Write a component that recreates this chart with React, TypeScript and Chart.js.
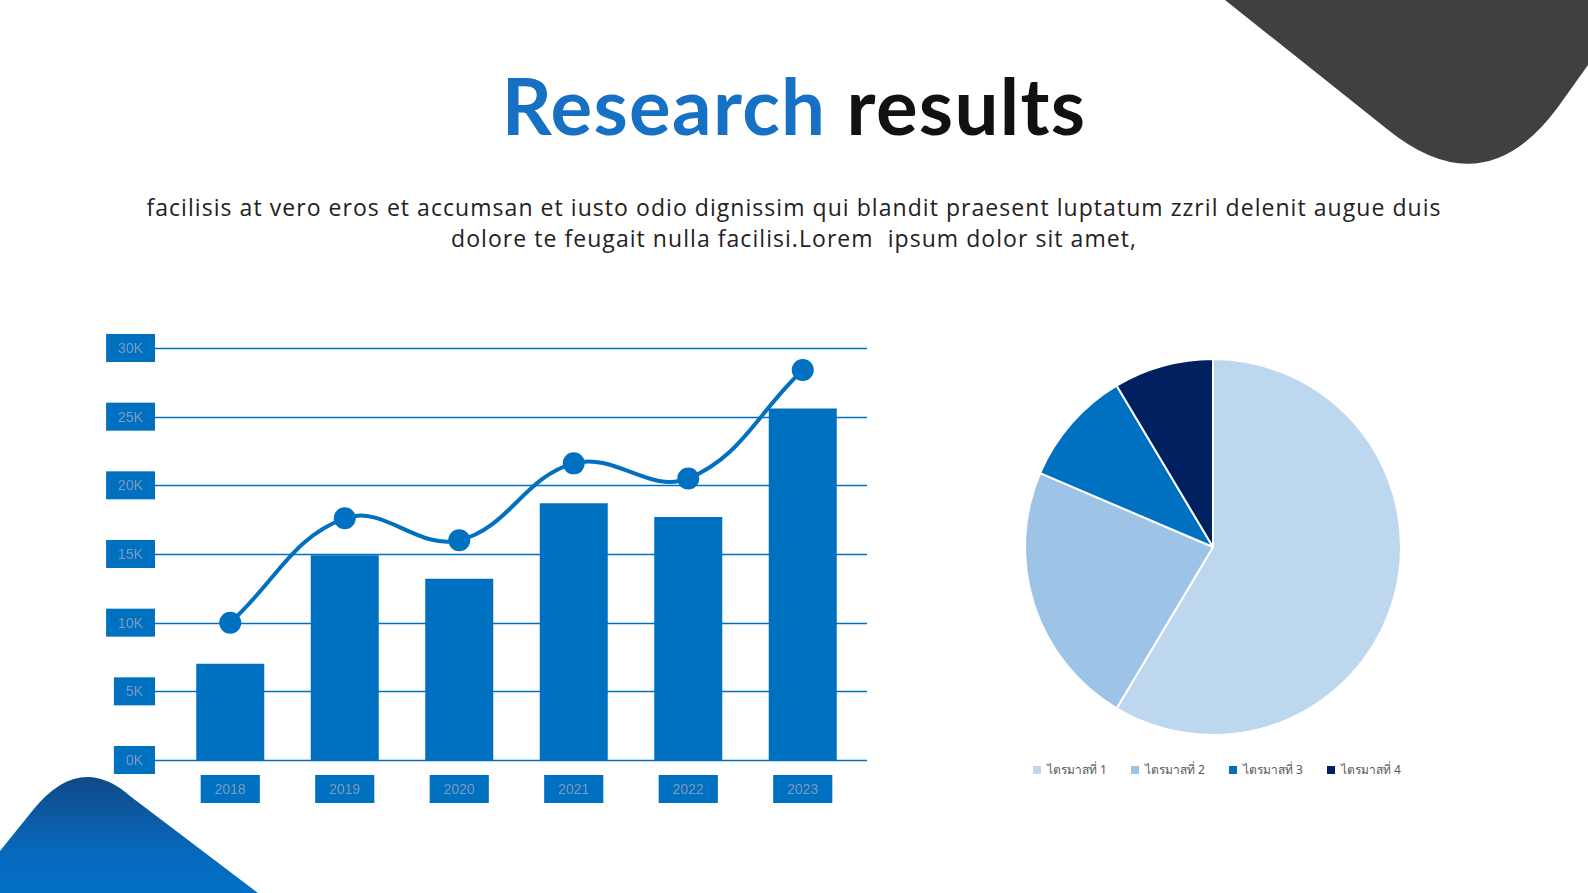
import React, { useEffect, useRef } from "react";
import { Chart, registerables } from "chart.js";
Chart.register(...registerables);

const years = ["2018", "2019", "2020", "2021", "2022", "2023"];
const barValues = [7000, 14900, 13200, 18700, 17700, 25600];
const lineValues = [10000, 17600, 16000, 21600, 20500, 28400];
const yTickLabels = ["0K", "5K", "10K", "15K", "20K", "25K", "30K"];
const pieLabels = ["ไตรมาสที่ 1", "ไตรมาสที่ 2", "ไตรมาสที่ 3", "ไตรมาสที่ 4"];
const pieValues = [8.2, 3.2, 1.4, 1.2];
const pieColors = ["#BDD7EE", "#9DC3E6", "#0070C0", "#002060"];

const BLUE = "#0070C0";
const LABEL_COLOR = "#7D9AC0";

const boxesPlugin = {
  id: "boxes",
  beforeDatasetsDraw(chart: any) {
    const { ctx, chartArea, scales } = chart;
    const y = scales.y;
    ctx.save();
    ctx.strokeStyle = BLUE;
    ctx.lineWidth = 1.3;
    y.ticks.forEach((t: any) => {
      const py = Math.round(y.getPixelForValue(t.value)) + 0.5;
      ctx.beginPath();
      ctx.moveTo(chartArea.left - 18, py);
      ctx.lineTo(chartArea.right + 7, py);
      ctx.stroke();
    });
    ctx.restore();
  },
  afterDraw(chart: any) {
    const { ctx, chartArea, scales } = chart;
    const y = scales.y;
    const x = scales.x;
    ctx.save();
    ctx.font = '14px "Liberation Sans", Arial, sans-serif';
    ctx.textBaseline = "middle";
    ctx.textAlign = "center";
    y.ticks.forEach((t: any) => {
      const py = y.getPixelForValue(t.value);
      const label = yTickLabels[Math.round(t.value / 5000)];
      const w = ctx.measureText(label).width + 24;
      const right = chartArea.left - 18;
      ctx.fillStyle = BLUE;
      ctx.fillRect(right - w, py - 14, w, 28);
      ctx.fillStyle = LABEL_COLOR;
      ctx.fillText(label, right - w / 2, py + 1);
    });
    years.forEach((lab, i) => {
      const px = x.getPixelForValue(i);
      const w = ctx.measureText(lab).width + 28;
      const cy = chartArea.bottom + 29;
      ctx.fillStyle = BLUE;
      ctx.fillRect(px - w / 2, cy - 14, w, 28);
      ctx.fillStyle = LABEL_COLOR;
      ctx.fillText(lab, px, cy + 1);
    });
    ctx.restore();
  },
};

function BarLineChart() {
  const ref = useRef<HTMLCanvasElement>(null);
  useEffect(() => {
    const chart = new Chart(ref.current!, {
      type: "bar",
      data: {
        labels: years,
        datasets: [
          {
            type: "line",
            data: lineValues,
            borderColor: BLUE,
            backgroundColor: BLUE,
            borderWidth: 4,
            pointRadius: 11,
            pointBackgroundColor: BLUE,
            pointBorderWidth: 0,
            tension: 0.4,
            order: 0,
          } as any,
          {
            type: "bar",
            data: barValues,
            backgroundColor: BLUE,
            categoryPercentage: 1,
            barPercentage: 0.594,
            order: 1,
          },
        ],
      },
      options: {
        animation: false,
        responsive: false,
        maintainAspectRatio: false,
        layout: { padding: { left: 173, right: 40, top: 48, bottom: 80 } },
        plugins: { legend: { display: false }, tooltip: { enabled: false } },
        scales: {
          x: {
            grid: { display: false, drawTicks: false },
            border: { display: false },
            ticks: { display: false },
          },
          y: {
            min: 0,
            max: 30000,
            grid: { display: false, drawTicks: false },
            border: { display: false },
            ticks: { display: false, stepSize: 5000 },
          },
        },
      },
      plugins: [boxesPlugin],
    });
    return () => chart.destroy();
  }, []);
  return (
    <canvas
      ref={ref}
      width={900}
      height={540}
      style={{ position: "absolute", left: 0, top: 300, width: 900, height: 540 }}
    />
  );
}

function PieChart() {
  const ref = useRef<HTMLCanvasElement>(null);
  useEffect(() => {
    const chart = new Chart(ref.current!, {
      type: "pie",
      data: {
        labels: pieLabels,
        datasets: [
          {
            data: pieValues,
            backgroundColor: pieColors,
            borderColor: "#FFFFFF",
            borderWidth: 2,
          },
        ],
      },
      options: {
        animation: false,
        responsive: false,
        maintainAspectRatio: false,
        layout: { padding: 11 },
        plugins: { legend: { display: false }, tooltip: { enabled: false } },
      },
    });
    return () => chart.destroy();
  }, []);
  return (
    <canvas
      ref={ref}
      width={400}
      height={400}
      style={{ position: "absolute", left: 1013, top: 347, width: 400, height: 400 }}
    />
  );
}

function PieLegend() {
  return (
    <div
      style={{
        position: "absolute",
        left: 1033,
        top: 760,
        display: "flex",
        fontFamily: '"Noto Sans", "DejaVu Sans", sans-serif',
        fontSize: 12,
        color: "#595959",
        lineHeight: "20px",
      }}
    >
      {pieLabels.map((l, i) => (
        <div key={l} style={{ display: "flex", alignItems: "center", width: 98 }}>
          <span
            style={{
              display: "inline-block",
              width: 8,
              height: 8,
              background: pieColors[i],
              marginRight: 6,
            }}
          />
          <span>{l}</span>
        </div>
      ))}
    </div>
  );
}

export default function App() {
  return (
    <div
      style={{
        position: "absolute",
        left: 0,
        top: 0,
        width: 1588,
        height: 893,
        background: "#FFFFFF",
        overflow: "hidden",
      }}
    >
      <svg
        width={1588}
        height={893}
        style={{ position: "absolute", left: 0, top: 0 }}
      >
        <defs>
          <linearGradient id="blg" x1="0" y1="0" x2="0" y2="1">
            <stop offset="0" stopColor="#0F4A86" />
            <stop offset="0.6" stopColor="#0867BA" />
            <stop offset="1" stopColor="#0070C6" />
          </linearGradient>
        </defs>
        <path d="M1225,0 L1387,129 Q1484,208 1558,107 L1588,65 L1588,0 Z" fill="#404040" />
        <path d="M0,851 L33,810 Q80,752 130,796 L258,893 L0,893 Z" fill="url(#blg)" />
      </svg>
      <div
        style={{
          position: "absolute",
          left: 0,
          top: 66,
          width: 1588,
          textAlign: "center",
          fontFamily: "Lato, sans-serif",
          fontWeight: 700,
          fontSize: 78,
          lineHeight: "78px",
          letterSpacing: 1.3,
          whiteSpace: "nowrap",
        }}
      >
        <span style={{ color: "#1670C4" }}>Research</span>
        <span style={{ color: "#111111" }}> results</span>
      </div>
      <div
        style={{
          position: "absolute",
          left: 0,
          top: 192,
          width: 1588,
          textAlign: "center",
          fontFamily: '"Open Sans", sans-serif',
          fontSize: 23,
          lineHeight: "31px",
          letterSpacing: 1.05,
          color: "#222222",
          whiteSpace: "nowrap",
        }}
      >
        facilisis at vero eros et accumsan et iusto odio dignissim qui blandit praesent luptatum zzril delenit augue duis
        <br />
        dolore te feugait nulla facilisi.Lorem&nbsp; ipsum dolor sit amet,
      </div>
      <BarLineChart />
      <PieChart />
      <PieLegend />
    </div>
  );
}
